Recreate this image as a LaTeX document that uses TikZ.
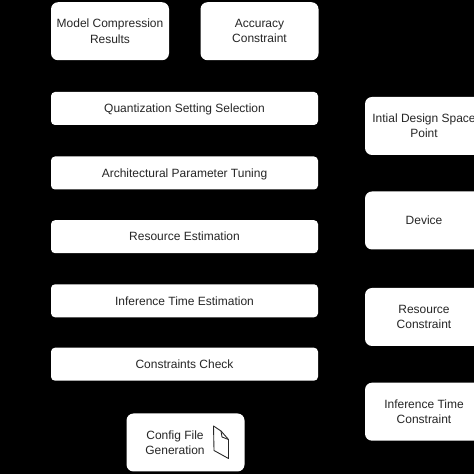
\documentclass[tikz,border=0pt]{standalone}
\usepackage{fontspec}
\setmainfont{Liberation Sans}
\usepackage{tikz}

\tikzset{
    flowbox/.style={fill=white,rounded corners=0.08cm,minimum width=5.34cm,minimum height=0.66cm,inner sep=0pt,text=black!85,font=\fontsize{6.82}{8.6}\selectfont,align=center,text height=5pt,text depth=0.1pt},
    inputbox/.style={fill=white,rounded corners=0.14cm,minimum width=2.36cm,minimum height=1.16cm,inner sep=0pt,text=black!85,font=\fontsize{6.82}{8.6}\selectfont,align=center}
}

\begin{document}
\begin{tikzpicture}[scale=1.0]
    \fill[black,use as bounding box] (0,0) rectangle (9.48,9.48);

    \node[inputbox] (compression) at (2.2,8.855) {Model Compression\\Results};
    \node[inputbox] (accuracy) at (5.19,8.855) {Accuracy\\Constraint};

    \node[flowbox] (quantization) at (3.69,7.31) {Quantization Setting Selection};
    \node[flowbox] (tuning) at (3.69,6.02) {Architectural Parameter Tuning};
    \node[flowbox] (resource) at (3.69,4.746) {Resource Estimation};
    \node[flowbox] (inference) at (3.69,3.464) {Inference Time Estimation};
    \node[flowbox] (check) at (3.69,2.196) {Constraints Check};

    \node[inputbox] (config) at (3.71,0.63) {};
    \node[font=\fontsize{6.82}{8.6}\selectfont,text=black!85,align=center,inner sep=0pt] (configtext) at (3.5,0.62) {Config File\\Generation};

    \node[inputbox] (initial) at (8.48,6.96) {Intial Design Space\\Point};
    \node[inputbox] (device) at (8.48,5.07) {Device};
    \node[inputbox] (resourcelimit) at (8.48,3.14) {Resource\\Constraint};
    \node[inputbox] (timelimit) at (8.48,1.246) {Inference Time\\Constraint};

    \draw[black!85,line width=0.5pt,line join=round] (4.27,0.96) -- (4.42,0.86) -- (4.57,0.69) -- (4.57,0.31) -- (4.28,0.47) -- cycle;
    \draw[black!85,line width=0.5pt,line join=round] (4.42,0.86) -- (4.44,0.74) -- (4.57,0.69);
\end{tikzpicture}
\end{document}
